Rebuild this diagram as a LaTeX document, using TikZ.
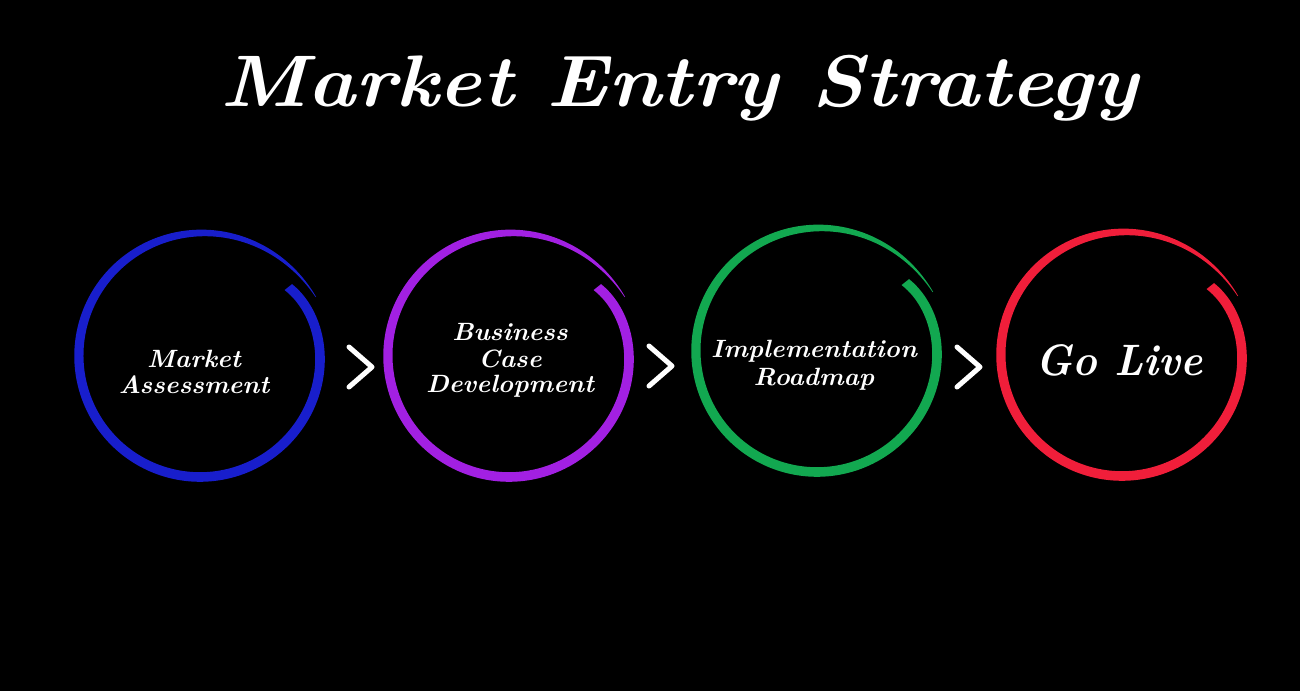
\documentclass[tikz,border=0pt]{standalone}
\usepackage{fontspec}
\tikzset{
  declare function={rr(\t)=121-9*(1-\t)^20+9*\t^8; ww(\t)=9*(1-\t^6)+0.6;},
  lbl/.style={text=white,inner sep=0pt,anchor=base,xscale=1.04,font=\fontsize{25}{27}\selectfont\bfseries\itshape},
  golive/.style={text=white,inner sep=0pt,anchor=base,xscale=0.95,font=\fontsize{44}{48}\selectfont\bfseries\itshape},
  titlestyle/.style={text=white,inner sep=0pt,anchor=base,xscale=1.11,font=\fontsize{73}{80}\selectfont\bfseries\itshape},
  chev/.style={draw=white,line width=5pt,line cap=round,line join=round},
}
\definecolor{ringblue}{RGB}{24,30,204}
\definecolor{ringpurple}{RGB}{162,32,226}
\definecolor{ringgreen}{RGB}{18,168,80}
\definecolor{ringred}{RGB}{240,30,58}
\newcommand\brushring[3]{%
  \fill[#3] plot[domain=0:1,samples=260,variable=\t]
    ({#1+(rr(\t)+ww(\t)/2)*cos(38-371*\t)},{#2-(rr(\t)+ww(\t)/2)*sin(38-371*\t)})
    -- plot[domain=1:0,samples=260,variable=\t]
    ({#1+(rr(\t)-ww(\t)/2)*cos(38-371*\t)},{#2-(rr(\t)-ww(\t)/2)*sin(38-371*\t)})
    -- cycle;}
\begin{document}
\begin{tikzpicture}[x=1pt,y=-1pt]
\fill[black] (0,0) rectangle (1300,691);
\useasboundingbox (0,0) rectangle (1300,691);

\node[titlestyle] (title) at (679,106) {Market Entry Strategy};

\brushring{200}{356}{ringblue}
\brushring{509}{356}{ringpurple}
\brushring{817}{351}{ringgreen}
\brushring{1122}{355}{ringred}

\node[lbl] (ma1) at (194,367) {Market};
\node[lbl] (ma2) at (194,393) {Assessment};

\node[lbl] (bc1) at (510,340) {Business};
\node[lbl] (bc2) at (510,367) {Case};
\node[lbl] (bc3) at (510,392) {Development};

\node[lbl] (ir1) at (814,357) {Implementation};
\node[lbl] (ir2) at (814,385) {Roadmap};

\node[golive] (gl) at (1119,375) {Go Live};

\coordinate (c1) at (372,367);
\coordinate (c2) at (672,366);
\coordinate (c3) at (980,367);
\foreach \c in {c1,c2,c3}{
  \draw[chev] ([shift={(-23,-20)}]\c) -- (\c) -- ([shift={(-23,20)}]\c);
}
\end{tikzpicture}
\end{document}
